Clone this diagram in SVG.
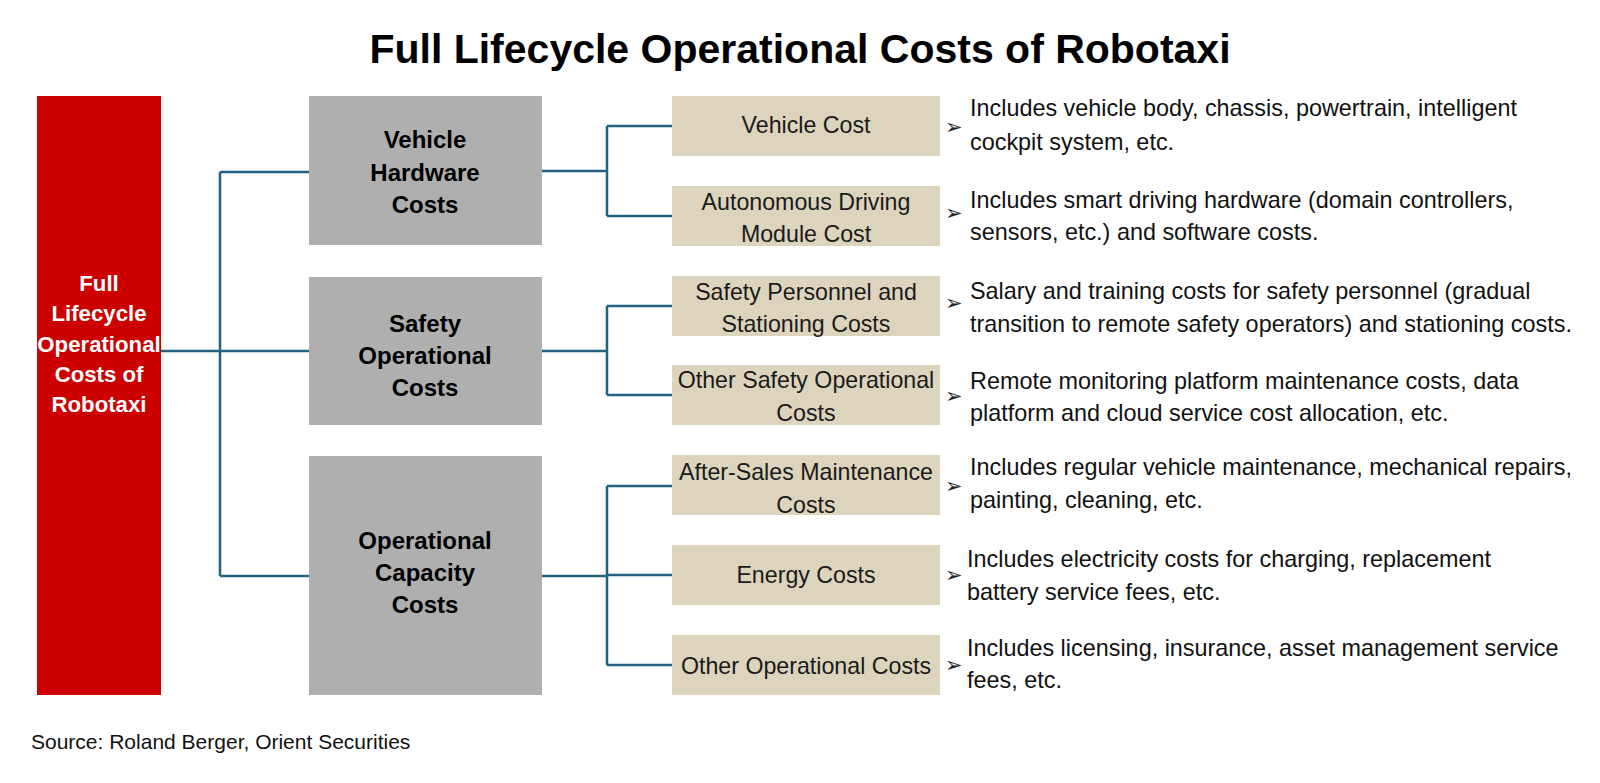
<svg xmlns="http://www.w3.org/2000/svg" width="1600" height="783" viewBox="0 0 1600 783">
<style>
.bg{fill:#ffffff}
.title{font-family:"Liberation Sans",Arial,sans-serif;font-weight:bold;font-size:41px;fill:#000;text-anchor:middle}
.root{fill:#CC0000}
.rootT{font-family:"Liberation Sans",Arial,sans-serif;font-weight:bold;font-size:22.2px;fill:#fff;text-anchor:middle}
.cat{fill:#AFAFAF}
.catT{font-family:"Liberation Sans",Arial,sans-serif;font-weight:bold;font-size:24px;fill:#000;text-anchor:middle}
.item{fill:#DDD4BE}
.itemT{font-family:"Liberation Sans",Arial,sans-serif;font-size:23.2px;fill:#1a1a1a;text-anchor:middle}
.desc{font-family:"Liberation Sans",Arial,sans-serif;font-size:23.4px;fill:#111}
.bul{font-family:"DejaVu Sans",sans-serif;font-size:21px;fill:#222}
.src{font-family:"Liberation Sans",Arial,sans-serif;font-size:21px;fill:#111}
.conn{fill:none;stroke:#22617F;stroke-width:2.5}
</style>
<rect class="bg" x="0" y="0" width="1600" height="783"/>
<text class="title" x="800" y="63">Full Lifecycle Operational Costs of Robotaxi</text>

<g id="connectors">
<path class="conn" d="M161,351 H220 M220,172 V576 M220,172 H309 M220,351 H309 M220,576 H309"/>
<path class="conn" d="M542,171 H607 M607,126 V216 M607,126 H672 M607,216 H672"/>
<path class="conn" d="M542,351 H607 M607,306 V395 M607,306 H672 M607,395 H672"/>
<path class="conn" d="M542,576 H607 M607,486 V665 M607,486 H672 M607,575 H672 M607,665 H672"/>
</g>

<g id="root">
<rect class="root" x="37" y="96" width="124" height="599"/>
<text class="rootT" x="99" y="291">Full</text>
<text class="rootT" x="99" y="321">Lifecycle</text>
<text class="rootT" x="99" y="352">Operational</text>
<text class="rootT" x="99" y="382">Costs of</text>
<text class="rootT" x="99" y="412">Robotaxi</text>
</g>

<g id="cat-hardware">
<rect class="cat" x="309" y="96" width="233" height="149"/>
<text class="catT" x="425" y="148">Vehicle</text>
<text class="catT" x="425" y="181">Hardware</text>
<text class="catT" x="425" y="213">Costs</text>
</g>
<g id="cat-safety">
<rect class="cat" x="309" y="277" width="233" height="148"/>
<text class="catT" x="425" y="332">Safety</text>
<text class="catT" x="425" y="364">Operational</text>
<text class="catT" x="425" y="396">Costs</text>
</g>
<g id="cat-capacity">
<rect class="cat" x="309" y="456" width="233" height="239"/>
<text class="catT" x="425" y="549">Operational</text>
<text class="catT" x="425" y="581">Capacity</text>
<text class="catT" x="425" y="613">Costs</text>
</g>

<g id="item-vehicle">
<rect class="item" x="672" y="96" width="268" height="60"/>
<text class="itemT" x="806" y="133">Vehicle Cost</text>
<text class="bul" x="945" y="134">➢</text>
<text class="desc" x="970" y="116">Includes vehicle body, chassis, powertrain, intelligent</text>
<text class="desc" x="970" y="150">cockpit system, etc.</text>
</g>
<g id="item-adm">
<rect class="item" x="672" y="186" width="268" height="60"/>
<text class="itemT" x="806" y="210">Autonomous Driving</text>
<text class="itemT" x="806" y="242">Module Cost</text>
<text class="bul" x="945" y="220">➢</text>
<text class="desc" x="970" y="208">Includes smart driving hardware (domain controllers,</text>
<text class="desc" x="970" y="240">sensors, etc.) and software costs.</text>
</g>
<g id="item-personnel">
<rect class="item" x="672" y="276" width="268" height="60"/>
<text class="itemT" x="806" y="300">Safety Personnel and</text>
<text class="itemT" x="806" y="332">Stationing Costs</text>
<text class="bul" x="945" y="310">➢</text>
<text class="desc" x="970" y="299">Salary and training costs for safety personnel (gradual</text>
<text class="desc" x="970" y="332">transition to remote safety operators) and stationing costs.</text>
</g>
<g id="item-othersafety">
<rect class="item" x="672" y="365" width="268" height="60"/>
<text class="itemT" x="806" y="388">Other Safety Operational</text>
<text class="itemT" x="806" y="421">Costs</text>
<text class="bul" x="945" y="403">➢</text>
<text class="desc" x="970" y="389">Remote monitoring platform maintenance costs, data</text>
<text class="desc" x="970" y="421">platform and cloud service cost allocation, etc.</text>
</g>
<g id="item-aftersales">
<rect class="item" x="672" y="455" width="268" height="60"/>
<text class="itemT" x="806" y="480">After-Sales Maintenance</text>
<text class="itemT" x="806" y="513">Costs</text>
<text class="bul" x="945" y="493">➢</text>
<text class="desc" x="970" y="475">Includes regular vehicle maintenance, mechanical repairs,</text>
<text class="desc" x="970" y="508">painting, cleaning, etc.</text>
</g>
<g id="item-energy">
<rect class="item" x="672" y="545" width="268" height="60"/>
<text class="itemT" x="806" y="583">Energy Costs</text>
<text class="bul" x="945" y="582">➢</text>
<text class="desc" x="967" y="567">Includes electricity costs for charging, replacement</text>
<text class="desc" x="967" y="600">battery service fees, etc.</text>
</g>
<g id="item-otherops">
<rect class="item" x="672" y="635" width="268" height="60"/>
<text class="itemT" x="806" y="674">Other Operational Costs</text>
<text class="bul" x="945" y="672">➢</text>
<text class="desc" x="967" y="656">Includes licensing, insurance, asset management service</text>
<text class="desc" x="967" y="688">fees, etc.</text>
</g>

<text class="src" x="31" y="749">Source: Roland Berger, Orient Securities</text>
</svg>
